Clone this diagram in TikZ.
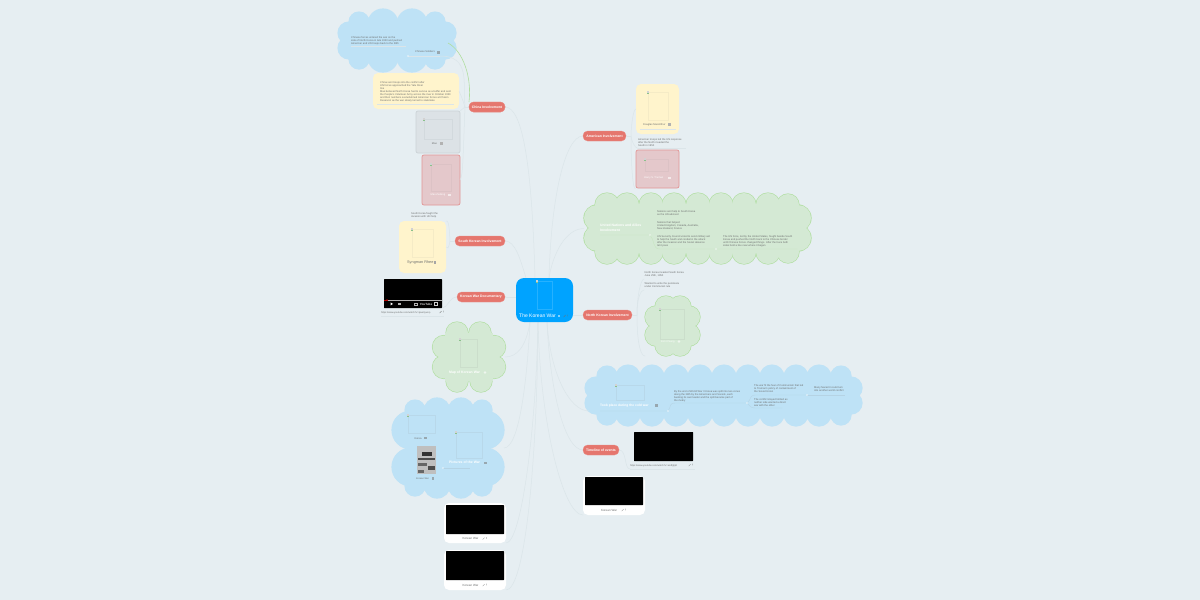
\documentclass[tikz,border=0pt]{standalone}
\usepackage{fontspec}
\setmainfont{Liberation Sans}
\definecolor{bgc}{RGB}{230,238,242}
\definecolor{conn}{RGB}{219,229,233}
\definecolor{pillc}{RGB}{229,118,110}
\definecolor{rootc}{RGB}{0,163,255}
\definecolor{blc}{RGB}{190,226,246}
\definecolor{grc}{RGB}{212,233,212}
\definecolor{grb}{RGB}{176,222,160}
\definecolor{yec}{RGB}{255,244,204}
\definecolor{gyc}{RGB}{220,226,230}
\definecolor{gyb}{RGB}{204,211,215}
\definecolor{rdc}{RGB}{228,200,203}
\definecolor{rdb}{RGB}{226,150,150}
\definecolor{txc}{RGB}{110,112,112}
\newcommand\boxat[7]{%
  \pgfmathsetmacro\bxw{#4-#2}\pgfmathsetmacro\bxh{#5-#3}%
  \node[#6,minimum width=\bxw pt,minimum height=\bxh pt,inner sep=0pt,outer sep=0pt] (#1) at ({(#2+#4)/2},{(#3+#5)/2}) {#7};}
\newcommand\cloudat[3]{%
  \foreach \cx/\cy/\cr in {#3} {\fill[#2] (\cx,\cy) circle ({\cr+0.6 pt});}
  \foreach \cx/\cy/\cr in {#3} {\fill[#1] (\cx,\cy) circle (\cr pt);}}
\newcommand\noteicon[2]{\fill[#2] (#1) ++(-1.3,-1.3) rectangle ++(2.6,2.6);}
\newcommand\linkicon[1]{\draw[line width=.3pt,txc] (#1) ++(-1.3,1) -- ++(1.9,-1.9) (#1) ++(2.4,.3) -- ++(0,-1.6);}
\newcommand\imgph[5][conn]{\draw[#1,line width=.3pt] (#2,#3) rectangle (#4,#5);
  \fill[gray!35] (#2-1,#3-1) rectangle ++(2.4,2.4);\fill[green!30!gray!70] (#2-1,#3+.6) rectangle ++(2.4,.8);}
\tikzset{
  x=1pt,y=-1pt,
  connector/.style={draw=conn,line width=.5pt},
  pill/.style={fill=pillc,draw=pillc!80!white,line width=.3pt,rounded corners=4.5pt,text=white,font=\fontsize{3.4}{4}\selectfont\bfseries},
  tiny/.style={text=txc,font=\fontsize{2.6}{3.05}\selectfont,align=left,inner sep=0pt,anchor=north west},
  caption/.style={text=txc,font=\fontsize{2.6}{3.2}\selectfont,inner sep=0pt},
  wcaption/.style={text=white,font=\fontsize{3.4}{4}\selectfont\bfseries,align=left,inner sep=0pt},
  noterule/.style={draw=conn,line width=.35pt},
  yellowbox/.style={fill=yec,rounded corners=5pt},
  greybox/.style={fill=gyc,draw=gyb,line width=.7pt,rounded corners=2pt},
  redbox/.style={fill=rdc,draw=rdb,line width=.7pt,rounded corners=2pt},
  cardbox/.style={fill=white,rounded corners=5pt},
  videobox/.style={fill=black,rounded corners=.5pt},
  ghost/.style={},
}
\begin{document}
\begin{tikzpicture}
\useasboundingbox[fill=bgc] (0,0) rectangle (1200,600);

% ---------- root connectors first (under everything)
\boxat{root}{516}{278}{573}{322}{}{}
\boxat{china}{469}{102}{505}{112}{}{}
\coordinate (rootTL) at (526,278);
\coordinate (rootTM) at (535,278);
\coordinate (rootTR) at (549,278);
\coordinate (rootBL) at (530,322);
\coordinate (rootBM) at (538,322);
\coordinate (rootBR) at (547,322);

% ---------- clouds
\cloudat{blc}{blc}{359/22/10,383/24/15,412/24/15,435/22/10,359/59/10,383/57/15,412/57/15,435/59/10,349/33/11,349/48/11,445/33/11,445/48/11}
\fill[blc] (350,22) rectangle (445,59);
\boxat{cloudA}{338}{9}{456}{72}{ghost}{}

\cloudat{grc}{grb}{457/333/11,480/333/11,457/381/11,481/381/11,444/347/11.5,444/367/11.5,494/347/11.5,494/367/11.5}
\fill[grc] (445,333) rectangle (493,381);
\boxat{cloudMap}{433}{322}{505}{392}{ghost}{}

\cloudat{blc}{blc}{415/410/10,437/411/13,461/411/13,482/410/10,415/486/10,437/485/13,461/485/13,482/486/10,411/430/19,411/467/19,485/430/19,485/467/19}
\fill[blc] (411,411) rectangle (485,486);
\boxat{cloudPics}{392}{398}{504}{498}{ghost}{}

\cloudat{grc}{grb}{607/205/12,627/205/12,651/205/12,674/205/12,698/205/12,721/205/12,744/205/12,768/205/12,788/205/11,607/252/12,627/252/12,651/252/12,674/252/12,698/252/12,721/252/12,744/252/12,768/252/12,788/252/11,597/218/13,597/238/13,798/218/13,798/238/13}
\fill[grc] (597,205) rectangle (798,252);
\boxat{cloudUN}{584}{193}{811}{264}{ghost}{}

\cloudat{grc}{grb}{666/307/11,680/307/11,666/345/11,680/345/11,656/317/11,656/335/11,689/317/11,689/335/11}
\fill[grc] (656,307) rectangle (689,345);
\boxat{cloudNK}{645}{296}{699}{356}{ghost}{}

\cloudat{blc}{blc}{607/376/10,628/377/12,652/377/12,676/377/12,700/377/12,724/377/12,748/377/12,772/377/12,796/377/12,819/377/12,841/376/10,607/415/10,628/414/12,652/414/12,676/414/12,700/414/12,724/414/12,748/414/12,772/414/12,796/414/12,819/414/12,841/415/10,596/388/11,596/403/11,851/388/11,851/403/11}
\fill[blc] (596,377) rectangle (851,414);
\boxat{cloudTime}{585}{365}{862}{426}{ghost}{}

% ---------- pills, boxes
\boxat{american}{583}{131}{626}{141}{pill}{American Involvement}
\boxat{south}{455}{236}{505}{246}{pill}{South Korean Involvement}
\boxat{docu}{457}{292}{505}{302}{pill}{Korean War Documentary}
\boxat{north}{583}{310}{632}{320}{pill}{North Korean Involvement}
\boxat{timeline}{583}{445}{619}{455}{pill}{Timeline of events}
\boxat{chinaPill}{469}{102}{505}{112}{pill}{China Involvement}

\boxat{cnNote}{373}{73}{459}{109}{yellowbox}{}
\boxat{cnGrey}{416}{111}{460}{153}{greybox}{}
\boxat{cnRed}{422}{155}{460}{205}{redbox}{}
\boxat{rhee}{399}{221}{446}{273}{yellowbox}{}
\boxat{usYellow}{636}{84}{679}{134}{yellowbox}{}
\boxat{usRed}{636}{150}{679}{188}{redbox}{}

\boxat{docuVid}{384}{279}{442}{308}{videobox}{}
\boxat{timeVid}{634}{432}{693}{461}{videobox}{}
\boxat{cardR}{583}{476}{645}{515}{cardbox}{}
\boxat{cardRv}{585}{477}{643}{505}{videobox}{}
\boxat{cardL}{444}{503}{506}{543}{cardbox}{}
\boxat{cardLv}{446}{505}{504}{534}{videobox}{}
\boxat{cardM}{444}{550}{506}{590}{cardbox}{}
\boxat{cardMv}{446}{551}{504}{580}{videobox}{}

% ---------- free ends of connectors
\coordinate (cnBranch) at (465,107);
\coordinate (usBranch) at (631,136);
\coordinate (krBranch) at (450,241);
\coordinate (nkBranch) at (637,315);
\coordinate (unDot) at (650,235);
\coordinate (unDotB) at (716,249);
\coordinate (timeDot) at (668,411);
\coordinate (timeDotB) at (747,403);
\coordinate (timeDotC) at (807,395);
\coordinate (timeL) at (589,411);
\coordinate (picsDot) at (443,468);
\coordinate (cloudDot) at (408,56);
\coordinate (cnGreen) at (448,43);
\coordinate (cloudEnd) at (440,56);

% ---------- root connectors
\draw[connector] (china.east) .. controls +(18,0) and +(-3,-110) .. (rootTM);
\draw[connector] (south.east) .. controls +(10,0) and +(-6,-20) .. (rootTL);
\draw[connector] (docu.east) -- (root.west |- docu.east);
\draw[connector] (american.west) .. controls +(-18,0) and +(2,-80) .. (rootTR);
\draw[connector] (cloudUN.west) .. controls +(-18,0) and +(4,-25) .. (rootTR);
\draw[connector] (north.west) -- (root.east |- north.west);
\draw[connector] (timeL) .. controls +(-20,0) and +(3,50) .. (rootBR);
\draw[connector] (timeline.west) .. controls +(-18,0) and +(3,70) .. (rootBR);
\draw[connector] (cardR.south west) .. controls +(-20,0) and +(2,100) .. (rootBM);
\draw[connector] (cloudMap.east) .. controls +(12,0) and +(-4,25) .. (rootBL);
\draw[connector] (cloudPics.east) .. controls +(15,0) and +(-3,60) .. (rootBL);
\draw[connector] (cardL.south east) .. controls +(15,0) and +(-2,110) .. (rootBM);
\draw[connector] (cardM.south east) .. controls +(18,0) and +(-1,150) .. (rootBM);

% ---------- child connectors
\draw[connector] (china.west) -- (cnBranch);
\draw[draw=grb,line width=.6pt] (china.north west) .. controls +(3,-25) and +(15,8) .. (cnGreen);
\draw[connector] (cnBranch) .. controls +(-3,-8) and +(6,14) .. (cnNote.east);
\draw[connector] (cnBranch) .. controls +(-2,-25) and +(30,0) .. (cloudEnd);
\draw[connector] (cnBranch) -- (cnGrey.north east);
\draw[connector] (cnBranch) .. controls +(-2,50) and +(3,-3) .. (cnRed.east);
\draw[connector] (south.west) -- (krBranch);
\draw[connector] (krBranch) .. controls +(-2,10) and +(2,0) .. (rhee.east);
\draw[connector] (krBranch) .. controls +(-1,-20) and +(2,0) .. (rhee.north east);
\draw[connector] (docu.west) .. controls +(-8,0) and +(6,0) .. (docuVid.south east);
\draw[connector] (american.east) -- (usBranch);
\draw[connector] (usBranch) .. controls +(0,-8) and +(-3,0) .. (usYellow.west);
\draw[connector] (usBranch) .. controls +(0,4) and +(-3,0) .. (638,148.5);
\draw[connector] (usBranch) .. controls +(0,30) and +(-3,5) .. (usRed.south west);
\draw[connector] (north.east) -- (nkBranch);
\draw[connector] (nkBranch) .. controls +(0,-20) and +(-3,0) .. (644,279);
\draw[connector] (nkBranch) .. controls +(0,-18) and +(-3,0) .. (644,290);
\draw[connector] (nkBranch) .. controls +(0,30) and +(-4,0) .. (cloudNK.south west);
\draw[connector] (timeline.east) .. controls +(8,0) and +(-6,0) .. (630,469);

% ---------- cloud inner lines and dots
\draw[connector] (cloudDot) -- (cloudEnd);
\draw[noterule] (351,46) -- (406,46);
\fill[white!70!blc] (cloudDot) circle (.8pt);
\draw[draw=grb!40!grc,line width=.35pt] (600,235) -- (unDot) .. controls (655,240) and (652,249) .. (660,249) -- (unDotB) -- (797,249);
\fill[white!70!grc] (unDot) circle (.9pt);\fill[white!70!grc] (unDotB) circle (.9pt);
\draw[draw=blc!85!gray,line width=.35pt] (600,411) -- (timeDot) .. controls (672,406) and (668,403) .. (676,403) -- (timeDotB) .. controls (752,399) and (749,395) .. (756,395) -- (timeDotC);
\draw[draw=blc!85!gray,line width=.35pt] (timeDotB) .. controls (750,405) and (749,408) .. (756,408) -- (782,408);
\draw[draw=blc!85!gray,line width=.35pt] (timeDotC) -- (845,395);
\fill[white!70!blc] (timeDot) circle (.9pt);\fill[white!70!blc] (timeDotB) circle (.9pt);\fill[white!70!blc] (timeDotC) circle (.9pt);
\draw[draw=blc!85!gray,line width=.35pt] (picsDot) -- (470,468);
\fill[white!70!blc] (picsDot) circle (.9pt);
\draw[noterule] (377,104.5) -- (454,104.5);

% ---------- root (over connectors)
\boxat{rootFill}{516}{278}{573}{322}{fill=rootc,rounded corners=8pt}{}
\boxat{chinaPill2}{469}{102}{505}{112}{pill}{China Involvement}
\imgph[rootc!85!white]{537}{281}{552}{309}
\node[inner sep=0pt,anchor=west,text=white,font=\fontsize{5}{6}\selectfont] (rootLabel) at (519,316) {The Korean War};
\noteicon{559,316}{white!50!rootc}
\linkicon{565,316}

% ---------- China side text
\node[tiny] (t1) at (351,36) {Chinese forces entered the war on the\\side of North Korea in late 1950 and pushed\\American and UN troops back to the 38th};
\node[caption,anchor=west] (t2) at (415,52) {Chinese Soldiers};
\noteicon{438.5,52.5}{gray!60!blc}
\node[tiny] (t3) at (380,81) {China sent troops into the conflict after\\UN forces approached the Yalu River\\line\\Mao believed North Korea had to survive as a buffer and sent\\the People's Volunteer Army across the river in October 1950\\and their numbers overwhelmed American forces at Chosin\\Reservoir as the war slowly turned to stalemate};
\imgph[gyb!60!gyc]{424}{119}{452}{139}
\node[caption,anchor=center] (t4) at (434.5,143.5) {Mao};
\noteicon{441.5,143.5}{gray!60}
\imgph[rdc!92!gray]{431}{164}{451}{191}
\node[caption,anchor=center,text=white] (t5) at (438,195) {Mao Zedong};
\noteicon{449.5,195}{white!60!rdc}

% ---------- South Korea text
\node[tiny] (t6) at (411,212) {South Korea fought the\\invasion with UN help};
\imgph[yec!92!gray]{412}{229}{433}{257}
\node[caption,anchor=west,font=\fontsize{3.8}{4.5}\selectfont] (t7) at (407,262.5) {Syngman Rhee};
\noteicon{435,262.5}{gray!70}

% ---------- documentary video
\node[caption,anchor=west,font=\fontsize{2.4}{3}\selectfont] (t8) at (381,312.5) {https://www.youtube.com/watch?v=qwertyuiop};
\linkicon{441,312}
\draw[noterule] (381,316) -- (444,316);
\draw[gray!60,line width=.3pt] (388,300) -- (442,300);
\draw[red!70!black,line width=.5pt] (384,300) -- (388,300);
\fill[red!70!black] (387,300) circle (.9pt);
\fill[white] (390.5,302.4) -- (390.5,305.4) -- (393,303.9) -- cycle;
\fill[white!70!black] (398,303) rectangle (401,305);
\draw[white!70!black,line width=.3pt] (414,303) rectangle (417,305);
\node[inner sep=0pt,text=white!85!black,font=\fontsize{3}{4}\selectfont\bfseries] (yt1) at (426,304) {YouTube};
\draw[white!80!black,line width=.3pt] (434,302.4) rectangle (437,305.2);

% ---------- map
\imgph[grc!90!gray]{460}{339}{477}{367}
\node[wcaption,anchor=west] (t9) at (449,372.5) {Map of Korean War};
\fill[white!60!grc] (485,372.5) circle (1.3pt);

% ---------- pictures
\imgph[blc!90!gray]{408}{415}{435}{433}
\node[caption,anchor=center] (t10) at (418,438.5) {Korea};
\noteicon{425.5,438}{gray!60!blc}
\fill[black!25] (417,446) rectangle (436,474);
\fill[black!80] (422,452) rectangle (432,456);
\fill[black!70] (418,458) rectangle (435,460);
\fill[black!60] (418,463) rectangle (427,466);
\fill[black!70] (428,466) rectangle (435,470);
\fill[black!60] (418,470) rectangle (424,473);
\node[caption,anchor=center,font=\fontsize{2.4}{3}\selectfont] (t11) at (422.5,478.5) {Korean War};
\noteicon{433,478.5}{gray!60!blc}
\imgph[blc!90!gray]{456}{432}{482}{458}
\node[wcaption,anchor=west] (t12) at (449,462.5) {Pictures of the War};
\noteicon{485.5,463}{gray!60!blc}

% ---------- video cards
\node[caption,anchor=center,font=\fontsize{3}{4}\selectfont] (t13) at (470.5,538.5) {Korean War};
\linkicon{484,538.5}
\node[caption,anchor=center,font=\fontsize{3}{4}\selectfont] (t14) at (470.5,585) {Korean War};
\linkicon{484,585}
\node[caption,anchor=center,font=\fontsize{3}{4}\selectfont] (t15) at (609,510) {Korean War};
\linkicon{623,510}
\node[caption,anchor=west,font=\fontsize{2.4}{3}\selectfont] (t16) at (630,465.5) {https://www.youtube.com/watch?v=asdfghjkl};
\linkicon{690,465}
\draw[noterule] (630,469) -- (695,469);

% ---------- America side
\imgph[yec!92!gray]{648}{92}{668}{120}
\node[caption,anchor=west] (t17) at (643,124.5) {Douglas MacArthur};
\noteicon{669.5,124.5}{gray!60}
\draw[noterule] (640,129) -- (676,129);
\node[tiny] (t18) at (638,138) {American troops led the UN response\\after the North invaded the\\South in 1950};
\draw[noterule] (638,148.5) -- (686,148.5);
\imgph[rdc!92!gray]{645}{159}{668}{171}
\node[caption,anchor=west,text=white] (t19) at (644,178) {Harry S. Truman};
\noteicon{669.5,178}{white!60!rdc}

% ---------- UN cloud text
\node[wcaption,anchor=north west,font=\fontsize{3.4}{5}\selectfont\bfseries] (t20) at (600,223.5) {United Nations and Allies\\Involvement};
\node[tiny] (t21) at (657,210) {Nations sent help to South Korea\\as the UN advised};
\node[tiny] (t22) at (657,221) {Nations that helped:\\United Kingdom, Canada, Australia,\\New Zealand, France};
\node[tiny] (t23) at (657,235) {UN Security Council voted to send military aid\\to help the South and condemn the attack\\after the invasion and the Soviet absence\\let it pass};
\node[tiny] (t24) at (723,235) {The UN force, led by the United States, fought beside South\\Korea and pushed the North back to the Chinese border\\until Chinese forces changed things. After the truce both\\sides held a line near where it began};

% ---------- North Korea text
\node[tiny] (t25) at (644.5,271) {North Korea invaded South Korea\\June 25th, 1950};
\node[tiny] (t26) at (644.5,282) {Wanted to unite the peninsula\\under Communist rule};
\imgph[grc!90!gray]{660}{309}{684}{339}
\node[caption,anchor=west,text=white] (t27) at (661,341.5) {Kim Il Sung};
\fill[white!60!grc] (679,341.5) circle (1.3pt);

% ---------- cold war cloud text
\imgph[blc!90!gray]{616}{385}{644}{400}
\node[wcaption,anchor=west,font=\fontsize{3.3}{4}\selectfont\bfseries] (t28) at (600,405.5) {Took place during the cold war};
\noteicon{656.5,405.5}{gray!60!blc}
\node[tiny] (t29) at (674,390) {By the end of World War II Korea was split into two zones\\along the 38th by the Americans and Soviets, each\\backing its own leader and the split became part of\\the rivalry};
\node[tiny] (t30) at (754,384) {The war fit the fear of Communism that led\\to Truman's policy of containment of\\the Soviet Union};
\node[tiny] (t31) at (754,398) {The conflict stayed limited as\\neither side wanted a direct\\war with the other};
\node[tiny] (t32) at (814,386) {Many feared it could turn\\into another world conflict};
\end{tikzpicture}
\end{document}
